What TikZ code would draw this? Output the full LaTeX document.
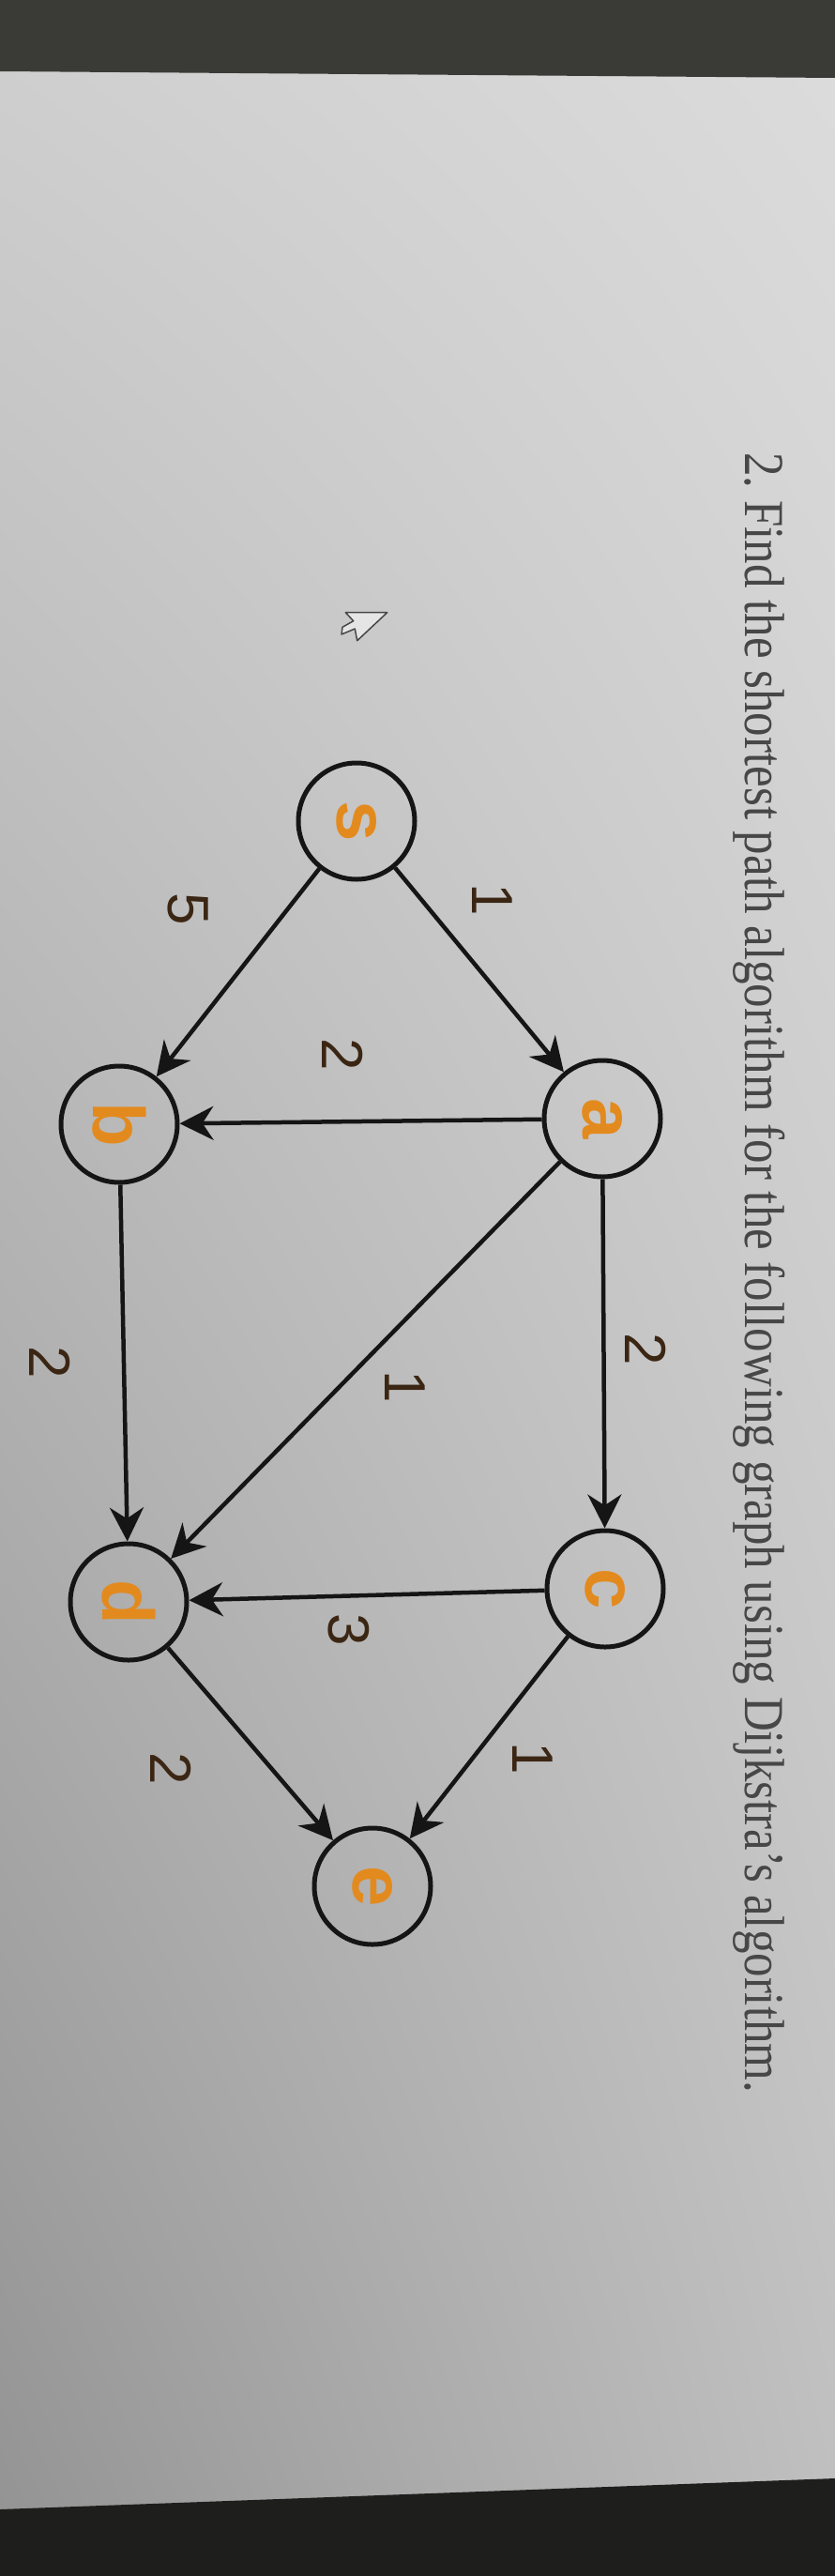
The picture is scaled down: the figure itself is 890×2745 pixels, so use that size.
\documentclass[tikz,border=0pt]{standalone}
\usepackage{fontspec}
\setmainfont{Liberation Serif}
\setsansfont{Liberation Sans}
\usepackage{tikz}
\usetikzlibrary{arrows.meta, positioning, shadings}
\definecolor{ScreenDark}{HTML}{3A3A36}
\definecolor{ScreenEdge}{HTML}{1E1E1C}
\definecolor{InkGray}{HTML}{474747}
\definecolor{VertexOrange}{HTML}{E38A1E}
\definecolor{WeightBrown}{HTML}{3B2614}
\definecolor{LineBlack}{HTML}{151515}
\tikzset{
  % Vertex styles
  vertexnode/.style={circle, draw=LineBlack, line width=5pt, minimum size=124pt, inner sep=0pt, text=VertexOrange, font=\sffamily\bfseries\fontsize{78}{78}\selectfont, rotate=-90},
  % Label styles
  weightlabel/.style={text=WeightBrown, font=\sffamily\fontsize{62}{62}\selectfont, rotate=-90, inner sep=0pt},
  questiontext/.style={text=InkGray, font=\fontsize{51}{60}\selectfont, rotate=-90, yscale=1.18, anchor=base west, inner sep=0pt},
  % Arrow styles
  edgearrow/.style={-{Stealth[length=36pt, width=36pt]}, line width=4.5pt, LineBlack}
}

\begin{document}
\begin{tikzpicture}[x=1pt, y=-1pt]
  \useasboundingbox (0,0) rectangle (890,2745);
  % Screen
  \shade[upper left=black!19, upper right=black!14, lower left=black!42, lower right=black!25] (0,70) rectangle (890,2680);
  \fill[ScreenDark] (0,0) -- (890,0) -- (890,83) -- (0,76) -- cycle;
  \fill[ScreenEdge] (0,2674) -- (890,2641) -- (890,2745) -- (0,2745) -- cycle;

  \node[questiontext] (question) at (794,482) {2.\ Find the shortest path algorithm for the following graph using Dijkstra’s algorithm.};

  % Pointer
  \draw[line width=1.5pt, InkGray, fill=black!10, line join=round] (412.7,652.7) -- (368.3,652.7) -- (376.7,661.7) -- (365,668.3) -- (364,676) -- (378.3,670) -- (380.7,682.7) -- cycle;

  % Vertices
  \node[vertexnode] (s) at (380,875) {s};
  \node[vertexnode] (a) at (642,1192) {a};
  \node[vertexnode] (b) at (127,1198) {b};
  \node[vertexnode] (c) at (645,1693) {c};
  \node[vertexnode] (d) at (137,1707) {d};
  \node[vertexnode] (e) at (397,2010) {e};

  % Edges
  \draw[edgearrow] (s) -- (a);
  \draw[edgearrow] (s) -- (b);
  \draw[edgearrow] (a) -- (b);
  \draw[edgearrow] (a) -- (c);
  \draw[edgearrow] (a) -- (d);
  \draw[edgearrow] (b) -- (d);
  \draw[edgearrow] (c) -- (d);
  \draw[edgearrow] (c) -- (e);
  \draw[edgearrow] (d) -- (e);

  % Weights
  \node[weightlabel] (wsa) at (525,959) {1};
  \node[weightlabel] (wsb) at (201,969) {5};
  \node[weightlabel] (wab) at (365,1124) {2};
  \node[weightlabel] (wac) at (688,1438) {2};
  \node[weightlabel] (wad) at (432,1478) {1};
  \node[weightlabel] (wbd) at (53,1452) {2};
  \node[weightlabel] (wcd) at (372,1737) {3};
  \node[weightlabel] (wce) at (568,1874) {1};
  \node[weightlabel] (wde) at (182,1885) {2};
\end{tikzpicture}
\end{document}
